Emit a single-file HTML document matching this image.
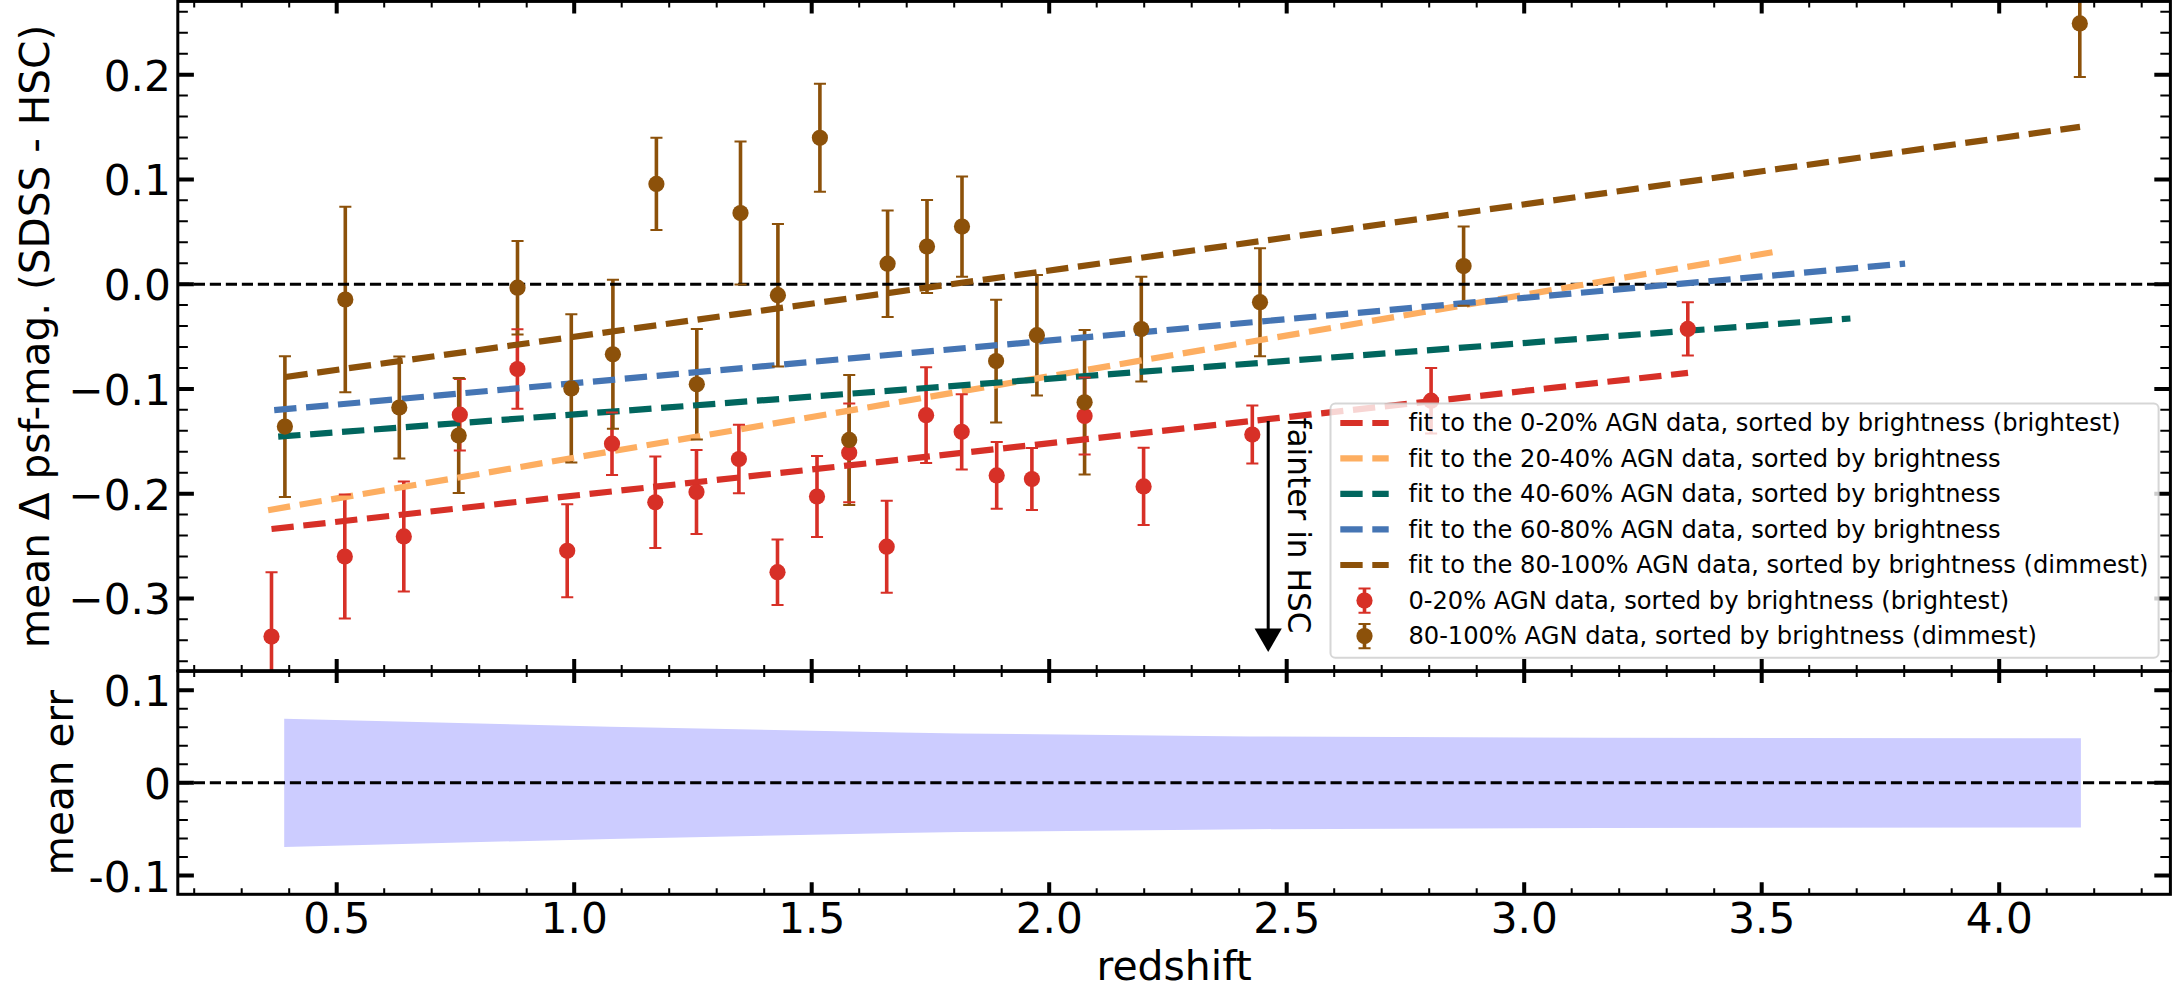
<!DOCTYPE html>
<html lang="en"><head><meta charset="utf-8"><title>mean psf-mag difference vs redshift</title>
<style>html,body{margin:0;padding:0;background:#fff}svg{display:block}text{font-family:'DejaVu Sans','Liberation Sans',sans-serif;fill:#000;font-variant-ligatures:none;font-feature-settings:"liga" 0,"clig" 0}</style></head><body>
<svg width="2172" height="981" viewBox="0 0 2172 981">
<rect width="2172" height="981" fill="#fff"/>
<defs><clipPath id="c1"><rect x="177.8" y="1.4" width="1992.6" height="669.3"/></clipPath>
<clipPath id="c2"><rect x="177.8" y="671.4" width="1992.6" height="222.9"/></clipPath></defs>
<g clip-path="url(#c1)">
<path d="M271.5 572.2V701.0M344.8 494.6V618.4M403.8 481.4V591.4M459.8 378.9V450.5M517.4 329.2V408.8M567.2 504.3V597.3M612.0 412.5V474.9M655.3 456.6V548.0M696.5 449.9V534.1M738.9 424.8V493.2M777.5 539.5V604.9M817.0 455.9V537.1M849.2 403.4V502.2M886.7 500.7V592.7M926.1 367.3V463.1M961.7 394.2V469.4M996.7 442.1V508.7M1031.9 448.0V510.0M1084.6 377.4V454.6M1143.6 447.8V525.0M1252.3 405.6V463.6M1431.1 368.0V433.4M1687.8 302.2V355.6" stroke="#d73027" stroke-width="3.60" fill="none"/>
<path d="M284.9 356.3V496.9M345.3 206.8V392.2M399.3 356.5V458.5M458.7 378.1V493.1M517.5 241.0V334.4M571.3 314.3V462.5M612.9 279.8V428.8M656.4 137.8V230.0M696.8 329.1V439.5M740.5 141.6V284.6M777.9 223.9V366.5M819.9 83.8V191.8M849.2 374.9V504.9M887.6 210.4V317.0M927.0 199.9V293.1M962.0 176.5V276.7M996.1 299.8V422.4M1036.9 274.9V395.5M1084.6 330.0V474.6M1141.3 276.7V381.5M1260.0 248.2V356.2M1463.6 226.5V305.7M2079.8 -30.3V77.1" stroke="#8c510a" stroke-width="3.60" fill="none"/>
<path d="M177.8 284.15H2170.4" stroke="#000" stroke-width="3.02" stroke-dasharray="11.18 4.83" fill="none"/>
<path d="M271.5 529.0L1688.0 372.9" stroke="#d73027" stroke-width="6.20" stroke-dasharray="22.34 9.66" fill="none"/>
<path d="M268.1 510.2L1773.4 252.1" stroke="#fdae61" stroke-width="6.20" stroke-dasharray="22.34 9.66" fill="none"/>
<path d="M278.2 436.7L1850.4 318.5" stroke="#01665e" stroke-width="6.20" stroke-dasharray="22.34 9.66" fill="none"/>
<path d="M274.2 410.2L1905.1 263.6" stroke="#4575b4" stroke-width="6.20" stroke-dasharray="22.34 9.66" fill="none"/>
<path d="M285.5 377.0L2080.0 126.9" stroke="#8c510a" stroke-width="6.20" stroke-dasharray="22.34 9.66" fill="none"/>
<g fill="#d73027" stroke="none">
<circle cx="271.5" cy="636.6" r="8.10"/>
<circle cx="344.8" cy="556.5" r="8.10"/>
<circle cx="403.8" cy="536.4" r="8.10"/>
<circle cx="459.8" cy="414.7" r="8.10"/>
<circle cx="517.4" cy="369.0" r="8.10"/>
<circle cx="567.2" cy="550.8" r="8.10"/>
<circle cx="612.0" cy="443.7" r="8.10"/>
<circle cx="655.3" cy="502.3" r="8.10"/>
<circle cx="696.5" cy="492.0" r="8.10"/>
<circle cx="738.9" cy="459.0" r="8.10"/>
<circle cx="777.5" cy="572.2" r="8.10"/>
<circle cx="817.0" cy="496.5" r="8.10"/>
<circle cx="849.2" cy="452.8" r="8.10"/>
<circle cx="886.7" cy="546.7" r="8.10"/>
<circle cx="926.1" cy="415.2" r="8.10"/>
<circle cx="961.7" cy="431.8" r="8.10"/>
<circle cx="996.7" cy="475.4" r="8.10"/>
<circle cx="1031.9" cy="479.0" r="8.10"/>
<circle cx="1084.6" cy="416.0" r="8.10"/>
<circle cx="1143.6" cy="486.4" r="8.10"/>
<circle cx="1252.3" cy="434.6" r="8.10"/>
<circle cx="1431.1" cy="400.7" r="8.10"/>
<circle cx="1687.8" cy="328.9" r="8.10"/>
</g>
<path d="M265.5 572.2h12.07M265.5 701.0h12.07M338.8 494.6h12.07M338.8 618.4h12.07M397.8 481.4h12.07M397.8 591.4h12.07M453.8 378.9h12.07M453.8 450.5h12.07M511.4 329.2h12.07M511.4 408.8h12.07M561.2 504.3h12.07M561.2 597.3h12.07M606.0 412.5h12.07M606.0 474.9h12.07M649.3 456.6h12.07M649.3 548.0h12.07M690.5 449.9h12.07M690.5 534.1h12.07M732.9 424.8h12.07M732.9 493.2h12.07M771.5 539.5h12.07M771.5 604.9h12.07M811.0 455.9h12.07M811.0 537.1h12.07M843.2 403.4h12.07M843.2 502.2h12.07M880.7 500.7h12.07M880.7 592.7h12.07M920.1 367.3h12.07M920.1 463.1h12.07M955.7 394.2h12.07M955.7 469.4h12.07M990.7 442.1h12.07M990.7 508.7h12.07M1025.9 448.0h12.07M1025.9 510.0h12.07M1078.6 377.4h12.07M1078.6 454.6h12.07M1137.6 447.8h12.07M1137.6 525.0h12.07M1246.3 405.6h12.07M1246.3 463.6h12.07M1425.1 368.0h12.07M1425.1 433.4h12.07M1681.8 302.2h12.07M1681.8 355.6h12.07" stroke="#d73027" stroke-width="2.01" fill="none"/>
<g fill="#8c510a" stroke="none">
<circle cx="284.9" cy="426.6" r="8.10"/>
<circle cx="345.3" cy="299.5" r="8.10"/>
<circle cx="399.3" cy="407.5" r="8.10"/>
<circle cx="458.7" cy="435.6" r="8.10"/>
<circle cx="517.5" cy="287.7" r="8.10"/>
<circle cx="571.3" cy="388.4" r="8.10"/>
<circle cx="612.9" cy="354.3" r="8.10"/>
<circle cx="656.4" cy="183.9" r="8.10"/>
<circle cx="696.8" cy="384.3" r="8.10"/>
<circle cx="740.5" cy="213.1" r="8.10"/>
<circle cx="777.9" cy="295.2" r="8.10"/>
<circle cx="819.9" cy="137.8" r="8.10"/>
<circle cx="849.2" cy="439.9" r="8.10"/>
<circle cx="887.6" cy="263.7" r="8.10"/>
<circle cx="927.0" cy="246.5" r="8.10"/>
<circle cx="962.0" cy="226.6" r="8.10"/>
<circle cx="996.1" cy="361.1" r="8.10"/>
<circle cx="1036.9" cy="335.2" r="8.10"/>
<circle cx="1084.6" cy="402.3" r="8.10"/>
<circle cx="1141.3" cy="329.1" r="8.10"/>
<circle cx="1260.0" cy="302.2" r="8.10"/>
<circle cx="1463.6" cy="266.1" r="8.10"/>
<circle cx="2079.8" cy="23.4" r="8.10"/>
</g>
<path d="M278.9 356.3h12.07M278.9 496.9h12.07M339.3 206.8h12.07M339.3 392.2h12.07M393.3 356.5h12.07M393.3 458.5h12.07M452.7 378.1h12.07M452.7 493.1h12.07M511.5 241.0h12.07M511.5 334.4h12.07M565.3 314.3h12.07M565.3 462.5h12.07M606.9 279.8h12.07M606.9 428.8h12.07M650.4 137.8h12.07M650.4 230.0h12.07M690.8 329.1h12.07M690.8 439.5h12.07M734.5 141.6h12.07M734.5 284.6h12.07M771.9 223.9h12.07M771.9 366.5h12.07M813.9 83.8h12.07M813.9 191.8h12.07M843.2 374.9h12.07M843.2 504.9h12.07M881.6 210.4h12.07M881.6 317.0h12.07M921.0 199.9h12.07M921.0 293.1h12.07M956.0 176.5h12.07M956.0 276.7h12.07M990.1 299.8h12.07M990.1 422.4h12.07M1030.9 274.9h12.07M1030.9 395.5h12.07M1078.6 330.0h12.07M1078.6 474.6h12.07M1135.3 276.7h12.07M1135.3 381.5h12.07M1254.0 248.2h12.07M1254.0 356.2h12.07M1457.6 226.5h12.07M1457.6 305.7h12.07M2073.8 -30.3h12.07M2073.8 77.1h12.07" stroke="#8c510a" stroke-width="2.01" fill="none"/>
</g>
<path d="M1268.2 421V632" stroke="#000" stroke-width="3.02" fill="none"/>
<path d="M1254.6 628.5H1281.8L1268.2 652Z" fill="#000"/>
<text transform="translate(1287.6 417.5) rotate(90)" font-size="31.2">fainter in HSC</text>
<polygon points="284.2,718.7 610.0,726.7 900.0,732.6 960.0,733.5 1250.0,736.4 1600.0,737.7 2080.9,738.2 2080.9,827.4 1600.0,827.9 1250.0,829.2 960.0,832.1 900.0,833.0 610.0,838.9 284.2,846.9" fill="#ccccff"/>
<path d="M177.8 782.80H2170.4" stroke="#000" stroke-width="3.02" stroke-dasharray="11.18 4.83" fill="none"/>
<path d="M336.70 1.40v12.07M574.20 1.40v12.07M811.70 1.40v12.07M1049.20 1.40v12.07M1286.70 1.40v12.07M1524.20 1.40v12.07M1761.70 1.40v12.07M1999.20 1.40v12.07" stroke="#000" stroke-width="4.02" fill="none"/>
<path d="M194.20 1.40v6.03M241.70 1.40v6.03M289.20 1.40v6.03M384.20 1.40v6.03M431.70 1.40v6.03M479.20 1.40v6.03M526.70 1.40v6.03M621.70 1.40v6.03M669.20 1.40v6.03M716.70 1.40v6.03M764.20 1.40v6.03M859.20 1.40v6.03M906.70 1.40v6.03M954.20 1.40v6.03M1001.70 1.40v6.03M1096.70 1.40v6.03M1144.20 1.40v6.03M1191.70 1.40v6.03M1239.20 1.40v6.03M1334.20 1.40v6.03M1381.70 1.40v6.03M1429.20 1.40v6.03M1476.70 1.40v6.03M1571.70 1.40v6.03M1619.20 1.40v6.03M1666.70 1.40v6.03M1714.20 1.40v6.03M1809.20 1.40v6.03M1856.70 1.40v6.03M1904.20 1.40v6.03M1951.70 1.40v6.03M2046.70 1.40v6.03M2094.20 1.40v6.03M2141.70 1.40v6.03" stroke="#000" stroke-width="2.01" fill="none"/>
<path d="M336.70 671.05v-12.07M574.20 671.05v-12.07M811.70 671.05v-12.07M1049.20 671.05v-12.07M1286.70 671.05v-12.07M1524.20 671.05v-12.07M1761.70 671.05v-12.07M1999.20 671.05v-12.07" stroke="#000" stroke-width="4.02" fill="none"/>
<path d="M194.20 671.05v-6.03M241.70 671.05v-6.03M289.20 671.05v-6.03M384.20 671.05v-6.03M431.70 671.05v-6.03M479.20 671.05v-6.03M526.70 671.05v-6.03M621.70 671.05v-6.03M669.20 671.05v-6.03M716.70 671.05v-6.03M764.20 671.05v-6.03M859.20 671.05v-6.03M906.70 671.05v-6.03M954.20 671.05v-6.03M1001.70 671.05v-6.03M1096.70 671.05v-6.03M1144.20 671.05v-6.03M1191.70 671.05v-6.03M1239.20 671.05v-6.03M1334.20 671.05v-6.03M1381.70 671.05v-6.03M1429.20 671.05v-6.03M1476.70 671.05v-6.03M1571.70 671.05v-6.03M1619.20 671.05v-6.03M1666.70 671.05v-6.03M1714.20 671.05v-6.03M1809.20 671.05v-6.03M1856.70 671.05v-6.03M1904.20 671.05v-6.03M1951.70 671.05v-6.03M2046.70 671.05v-6.03M2094.20 671.05v-6.03M2141.70 671.05v-6.03" stroke="#000" stroke-width="2.01" fill="none"/>
<path d="M336.70 671.05v12.07M574.20 671.05v12.07M811.70 671.05v12.07M1049.20 671.05v12.07M1286.70 671.05v12.07M1524.20 671.05v12.07M1761.70 671.05v12.07M1999.20 671.05v12.07" stroke="#000" stroke-width="4.02" fill="none"/>
<path d="M194.20 671.05v6.03M241.70 671.05v6.03M289.20 671.05v6.03M384.20 671.05v6.03M431.70 671.05v6.03M479.20 671.05v6.03M526.70 671.05v6.03M621.70 671.05v6.03M669.20 671.05v6.03M716.70 671.05v6.03M764.20 671.05v6.03M859.20 671.05v6.03M906.70 671.05v6.03M954.20 671.05v6.03M1001.70 671.05v6.03M1096.70 671.05v6.03M1144.20 671.05v6.03M1191.70 671.05v6.03M1239.20 671.05v6.03M1334.20 671.05v6.03M1381.70 671.05v6.03M1429.20 671.05v6.03M1476.70 671.05v6.03M1571.70 671.05v6.03M1619.20 671.05v6.03M1666.70 671.05v6.03M1714.20 671.05v6.03M1809.20 671.05v6.03M1856.70 671.05v6.03M1904.20 671.05v6.03M1951.70 671.05v6.03M2046.70 671.05v6.03M2094.20 671.05v6.03M2141.70 671.05v6.03" stroke="#000" stroke-width="2.01" fill="none"/>
<path d="M336.70 894.30v-12.07M574.20 894.30v-12.07M811.70 894.30v-12.07M1049.20 894.30v-12.07M1286.70 894.30v-12.07M1524.20 894.30v-12.07M1761.70 894.30v-12.07M1999.20 894.30v-12.07" stroke="#000" stroke-width="4.02" fill="none"/>
<path d="M194.20 894.30v-6.03M241.70 894.30v-6.03M289.20 894.30v-6.03M384.20 894.30v-6.03M431.70 894.30v-6.03M479.20 894.30v-6.03M526.70 894.30v-6.03M621.70 894.30v-6.03M669.20 894.30v-6.03M716.70 894.30v-6.03M764.20 894.30v-6.03M859.20 894.30v-6.03M906.70 894.30v-6.03M954.20 894.30v-6.03M1001.70 894.30v-6.03M1096.70 894.30v-6.03M1144.20 894.30v-6.03M1191.70 894.30v-6.03M1239.20 894.30v-6.03M1334.20 894.30v-6.03M1381.70 894.30v-6.03M1429.20 894.30v-6.03M1476.70 894.30v-6.03M1571.70 894.30v-6.03M1619.20 894.30v-6.03M1666.70 894.30v-6.03M1714.20 894.30v-6.03M1809.20 894.30v-6.03M1856.70 894.30v-6.03M1904.20 894.30v-6.03M1951.70 894.30v-6.03M2046.70 894.30v-6.03M2094.20 894.30v-6.03M2141.70 894.30v-6.03" stroke="#000" stroke-width="2.01" fill="none"/>
<path d="M177.80 598.40h16.09M2170.40 598.40h-16.09M177.80 493.65h16.09M2170.40 493.65h-16.09M177.80 388.90h16.09M2170.40 388.90h-16.09M177.80 284.15h16.09M2170.40 284.15h-16.09M177.80 179.40h16.09M2170.40 179.40h-16.09M177.80 74.65h16.09M2170.40 74.65h-16.09" stroke="#000" stroke-width="4.02" fill="none"/>
<path d="M177.80 661.25h10.06M2170.40 661.25h-10.06M177.80 640.30h10.06M2170.40 640.30h-10.06M177.80 619.35h10.06M2170.40 619.35h-10.06M177.80 577.45h10.06M2170.40 577.45h-10.06M177.80 556.50h10.06M2170.40 556.50h-10.06M177.80 535.55h10.06M2170.40 535.55h-10.06M177.80 514.60h10.06M2170.40 514.60h-10.06M177.80 472.70h10.06M2170.40 472.70h-10.06M177.80 451.75h10.06M2170.40 451.75h-10.06M177.80 430.80h10.06M2170.40 430.80h-10.06M177.80 409.85h10.06M2170.40 409.85h-10.06M177.80 367.95h10.06M2170.40 367.95h-10.06M177.80 347.00h10.06M2170.40 347.00h-10.06M177.80 326.05h10.06M2170.40 326.05h-10.06M177.80 305.10h10.06M2170.40 305.10h-10.06M177.80 263.20h10.06M2170.40 263.20h-10.06M177.80 242.25h10.06M2170.40 242.25h-10.06M177.80 221.30h10.06M2170.40 221.30h-10.06M177.80 200.35h10.06M2170.40 200.35h-10.06M177.80 158.45h10.06M2170.40 158.45h-10.06M177.80 137.50h10.06M2170.40 137.50h-10.06M177.80 116.55h10.06M2170.40 116.55h-10.06M177.80 95.60h10.06M2170.40 95.60h-10.06M177.80 53.70h10.06M2170.40 53.70h-10.06M177.80 32.75h10.06M2170.40 32.75h-10.06M177.80 11.80h10.06M2170.40 11.80h-10.06" stroke="#000" stroke-width="2.01" fill="none"/>
<path d="M177.80 875.55h16.09M2170.40 875.55h-16.09M177.80 782.85h16.09M2170.40 782.85h-16.09M177.80 690.15h16.09M2170.40 690.15h-16.09" stroke="#000" stroke-width="4.02" fill="none"/>
<path d="M177.80 857.01h10.06M2170.40 857.01h-10.06M177.80 838.47h10.06M2170.40 838.47h-10.06M177.80 819.93h10.06M2170.40 819.93h-10.06M177.80 801.39h10.06M2170.40 801.39h-10.06M177.80 764.31h10.06M2170.40 764.31h-10.06M177.80 745.77h10.06M2170.40 745.77h-10.06M177.80 727.23h10.06M2170.40 727.23h-10.06M177.80 708.69h10.06M2170.40 708.69h-10.06" stroke="#000" stroke-width="2.01" fill="none"/>
<rect x="1330.5" y="403.5" width="828.1" height="254.3" rx="4.8" ry="4.8" fill="#fff" fill-opacity="0.8" stroke="#ccc" stroke-opacity="0.8" stroke-width="2.01"/>
<path d="M1340.3 423.0H1388.7" stroke="#d73027" stroke-width="6.20" stroke-dasharray="22.34 9.66" fill="none"/>
<text x="1408.4" y="431.3" font-size="24.17">fit to the 0-20% AGN data, sorted by brightness (brightest)</text>
<path d="M1340.3 458.4H1388.7" stroke="#fdae61" stroke-width="6.20" stroke-dasharray="22.34 9.66" fill="none"/>
<text x="1408.4" y="466.7" font-size="24.17">fit to the 20-40% AGN data, sorted by brightness</text>
<path d="M1340.3 493.9H1388.7" stroke="#01665e" stroke-width="6.20" stroke-dasharray="22.34 9.66" fill="none"/>
<text x="1408.4" y="502.2" font-size="24.17">fit to the 40-60% AGN data, sorted by brightness</text>
<path d="M1340.3 529.3H1388.7" stroke="#4575b4" stroke-width="6.20" stroke-dasharray="22.34 9.66" fill="none"/>
<text x="1408.4" y="537.6" font-size="24.17">fit to the 60-80% AGN data, sorted by brightness</text>
<path d="M1340.3 565.0H1388.7" stroke="#8c510a" stroke-width="6.20" stroke-dasharray="22.34 9.66" fill="none"/>
<text x="1408.4" y="573.3" font-size="24.17">fit to the 80-100% AGN data, sorted by brightness (dimmest)</text>
<path d="M1364.5 588.5V612.7" stroke="#d73027" stroke-width="3.60" fill="none"/>
<circle cx="1364.5" cy="600.6" r="8.10" fill="#d73027"/>
<path d="M1358.5 588.5h12.07M1358.5 612.7h12.07" stroke="#d73027" stroke-width="2.01" fill="none"/>
<text x="1408.4" y="608.9" font-size="24.17">0-20% AGN data, sorted by brightness (brightest)</text>
<path d="M1364.5 624.0V648.2" stroke="#8c510a" stroke-width="3.60" fill="none"/>
<circle cx="1364.5" cy="636.1" r="8.10" fill="#8c510a"/>
<path d="M1358.5 624.0h12.07M1358.5 648.2h12.07" stroke="#8c510a" stroke-width="2.01" fill="none"/>
<text x="1408.4" y="644.4" font-size="24.17">80-100% AGN data, sorted by brightness (dimmest)</text>
<g stroke="#000" stroke-width="3.02" fill="none" stroke-linecap="square">
<rect x="177.8" y="1.4" width="1992.6" height="669.3"/>
<rect x="177.8" y="671.4" width="1992.6" height="222.9"/>
</g>
<g font-size="42.2" text-anchor="end">
<text x="170.8" y="90.6">0.2</text>
<text x="170.8" y="195.4">0.1</text>
<text x="170.8" y="300.1">0.0</text>
<text x="170.8" y="404.9">−0.1</text>
<text x="170.8" y="509.6">−0.2</text>
<text x="170.8" y="614.4">−0.3</text>
<text x="170.8" y="706.1">0.1</text>
<text x="170.8" y="798.9">0</text>
<text x="170.8" y="891.6">-0.1</text>
</g>
<g font-size="42.2" text-anchor="middle">
<text x="336.7" y="933.1">0.5</text>
<text x="574.2" y="933.1">1.0</text>
<text x="811.7" y="933.1">1.5</text>
<text x="1049.2" y="933.1">2.0</text>
<text x="1286.7" y="933.1">2.5</text>
<text x="1524.2" y="933.1">3.0</text>
<text x="1761.7" y="933.1">3.5</text>
<text x="1999.2" y="933.1">4.0</text>
</g>
<text x="1174.2" y="980.4" font-size="40.9" text-anchor="middle">redshift</text>
<text transform="translate(48.9 336.5) rotate(-90)" font-size="40.6" text-anchor="middle">mean Δ psf-mag. (SDSS - HSC)</text>
<text transform="translate(73.1 782.8) rotate(-90)" font-size="40.6" text-anchor="middle">mean err</text>
</svg></body></html>
